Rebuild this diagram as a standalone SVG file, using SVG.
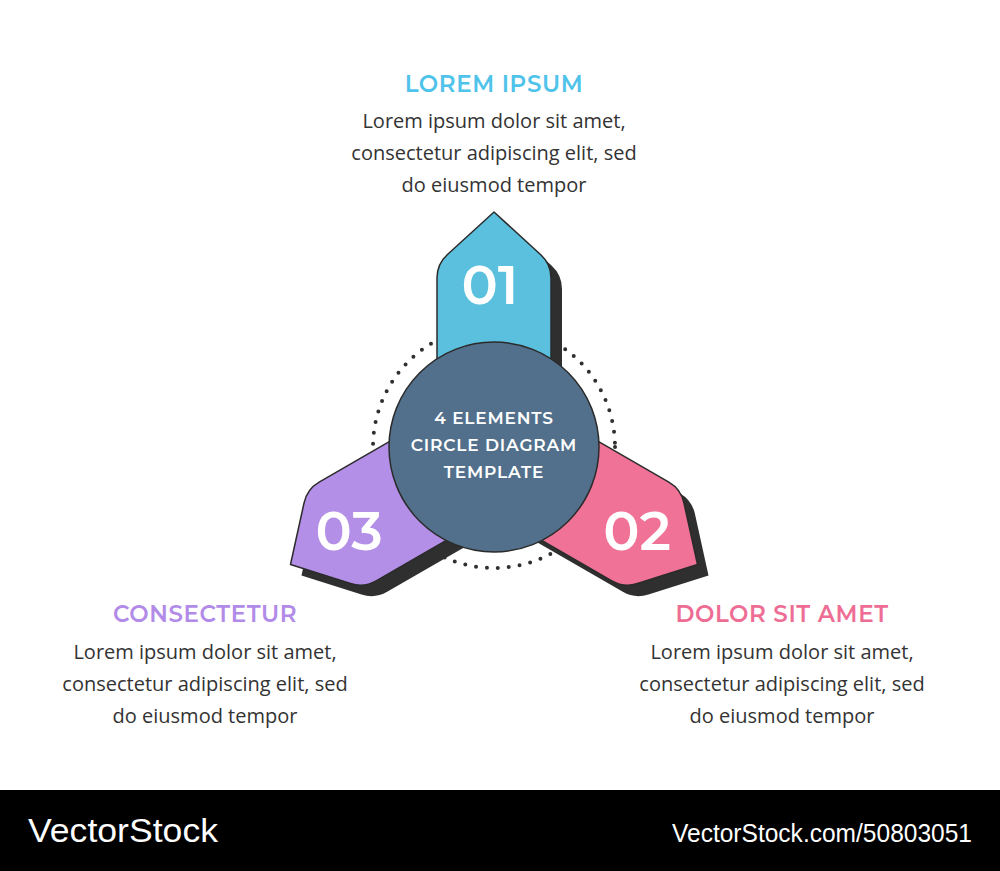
<svg xmlns="http://www.w3.org/2000/svg" xmlns:xlink="http://www.w3.org/1999/xlink" width="1000" height="871" viewBox="0 0 1000 871">
<style>
.title{font-family:"Montserrat","Lato","Noto Sans",sans-serif;font-weight:600;font-size:23px;text-anchor:middle;letter-spacing:0.6px}
.body{font-family:"Open Sans","Noto Sans",sans-serif;font-size:20px;fill:#333333;text-anchor:middle}
.num{font-family:"Montserrat","Lato","Noto Sans",sans-serif;font-weight:600;font-size:54px;fill:#ffffff;text-anchor:middle}
.ctr{font-family:"Montserrat","Lato","Noto Sans",sans-serif;font-weight:600;font-size:17px;fill:#ffffff;text-anchor:middle;letter-spacing:0.8px}
.edge{stroke:#2b2b2b;stroke-width:1.5;stroke-linejoin:round}
.shadow{fill:#2f2f2f}
.brand{font-family:"Liberation Sans Narrow","Liberation Sans",sans-serif;fill:#ffffff}
</style>
<defs>
<path id="petal" d="M0 -235 L46.5 -192.5 Q57 -183 57 -169 L57 0 L-57 0 L-57 -169 Q-57 -183 -46.5 -192.5 Z"/>
</defs>
<rect width="1000" height="871" fill="#ffffff"/>

<g id="ring">
<circle cx="494" cy="447" r="121" fill="none" stroke="#2f2f2f" stroke-width="4" stroke-linecap="round" stroke-dasharray="0 10.95"/>
</g>

<g id="shadows" class="shadow">
<use xlink:href="#petal" transform="translate(505,458)"/>
<use xlink:href="#petal" transform="translate(505,458) rotate(120)"/>
<use xlink:href="#petal" transform="translate(505,458) rotate(240)"/>
</g>

<g id="node-01">
<use xlink:href="#petal" class="edge" fill="#5bc0de" transform="translate(494,447)"/>
<text class="num" x="490" y="304">01</text>
</g>
<g id="node-02">
<use xlink:href="#petal" class="edge" fill="#f07296" transform="translate(494,447) rotate(120)"/>
<text class="num" x="637" y="550">02</text>
</g>
<g id="node-03">
<use xlink:href="#petal" class="edge" fill="#b48fe8" transform="translate(494,447) rotate(240)"/>
<text class="num" x="349" y="550">03</text>
</g>

<g id="center">
<circle cx="494" cy="447" r="105" fill="#52708b" class="edge"/>
<text class="ctr" x="494" y="424">4 ELEMENTS</text>
<text class="ctr" x="494" y="451">CIRCLE DIAGRAM</text>
<text class="ctr" x="494" y="478">TEMPLATE</text>
</g>

<g id="label-01">
<text class="title" x="494" y="92" fill="#4fc3ea">LOREM IPSUM</text>
<text class="body" x="494" y="128">Lorem ipsum dolor sit amet,</text>
<text class="body" x="494" y="160">consectetur adipiscing elit, sed</text>
<text class="body" x="494" y="192">do eiusmod tempor</text>
</g>
<g id="label-02">
<text class="title" x="782" y="622" fill="#ee6d94">DOLOR SIT AMET</text>
<text class="body" x="782" y="659">Lorem ipsum dolor sit amet,</text>
<text class="body" x="782" y="691">consectetur adipiscing elit, sed</text>
<text class="body" x="782" y="723">do eiusmod tempor</text>
</g>
<g id="label-03">
<text class="title" x="205" y="622" fill="#b28be8">CONSECTETUR</text>
<text class="body" x="205" y="659">Lorem ipsum dolor sit amet,</text>
<text class="body" x="205" y="691">consectetur adipiscing elit, sed</text>
<text class="body" x="205" y="723">do eiusmod tempor</text>
</g>

<g id="footer">
<rect x="0" y="790" width="1000" height="81" fill="#000000"/>
<text class="brand" x="28" y="842" font-size="34" textLength="190" lengthAdjust="spacingAndGlyphs">VectorStock</text>
<text class="brand" x="672" y="842" font-size="26" textLength="300" lengthAdjust="spacingAndGlyphs">VectorStock.com/50803051</text>
</g>
</svg>
